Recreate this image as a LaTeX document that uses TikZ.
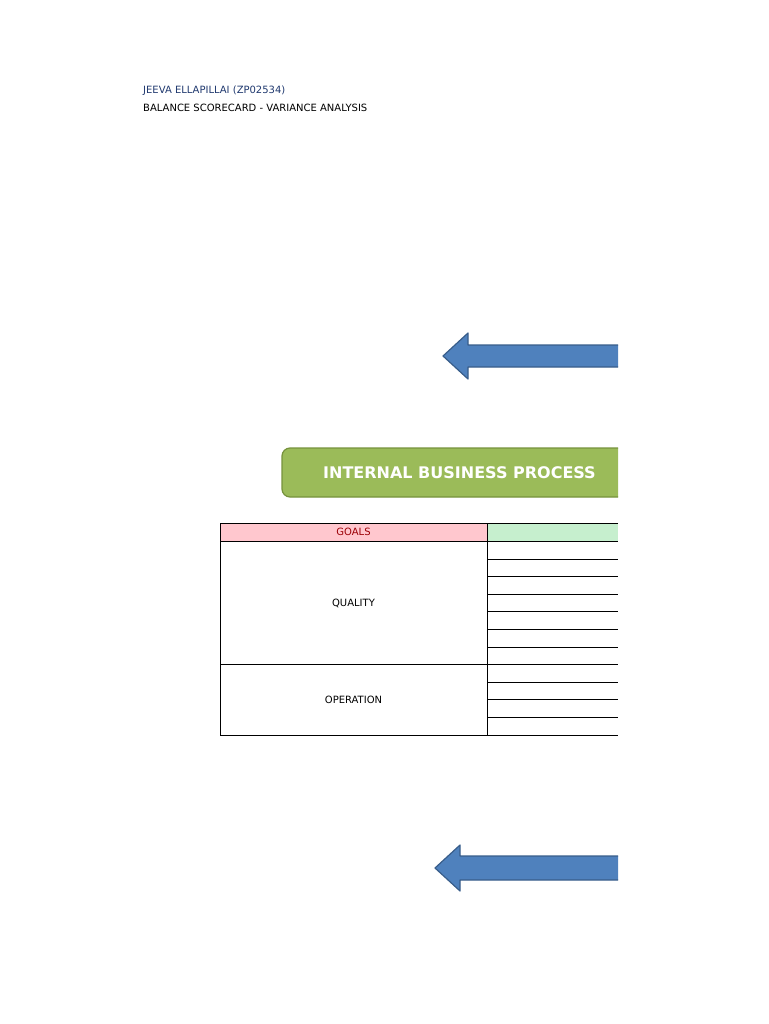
\documentclass[tikz,border=0pt]{standalone}
\usepackage{fontspec}
\setmainfont{DejaVu Sans}
\definecolor{navy}{RGB}{31,56,110}
\definecolor{arrfill}{RGB}{79,129,189}
\definecolor{arrdraw}{RGB}{56,93,138}
\definecolor{gfill}{RGB}{155,187,89}
\definecolor{gdraw}{RGB}{118,146,60}
\definecolor{pinkc}{RGB}{255,199,206}
\definecolor{mintc}{RGB}{198,239,206}
\definecolor{darkred}{RGB}{156,0,6}
\begin{document}
\begin{tikzpicture}[x=1pt,y=-1pt,
  arr/.style={fill=arrfill,draw=arrdraw,line width=1.2pt,line join=round},
  cell/.style={draw=black,line width=0.6pt},
  lbl/.style={font=\fontsize{10}{12}\selectfont,inner sep=0pt}]
\useasboundingbox (0,0) rectangle (768,1024);
\node[lbl,anchor=west,text=navy] (name) at (143,91) {JEEVA ELLAPILLAI (ZP02534)};
\node[lbl,anchor=west] (sub) at (143,108) {BALANCE SCORECARD - VARIANCE ANALYSIS};
\draw[arr] (618,345) -- (468,345) -- (468,333) -- (443,356) -- (468,379) -- (468,367) -- (618,367);
\draw[arr] (618,856) -- (460,856) -- (460,845) -- (435,868) -- (460,891) -- (460,880) -- (618,880);
\begin{scope}
\clip (0,0) rectangle (618,1024);
\draw[fill=gfill,draw=gdraw,line width=1.2pt,rounded corners=8pt] (282,448) rectangle (660,497);
\node[anchor=west,inner sep=0pt,text=white,font=\bfseries\fontsize{16}{19}\selectfont] (title) at (323,473) {INTERNAL BUSINESS PROCESS};
\end{scope}
\fill[pinkc] (220,523) rectangle (487,541);
\fill[mintc] (487,523) rectangle (618,541);
\draw[cell] (618,523) -- (220,523) -- (220,735) -- (618,735);
\draw[cell] (487,523) -- (487,735);
\draw[cell] (220,541) -- (618,541);
\draw[cell] (220,664) -- (618,664);
\foreach \y in {559,576,594,611,629,647,682,699,717} \draw[cell] (487,\y) -- (618,\y);
\node[lbl,text=darkred] (goals) at (353.5,532) {GOALS};
\node[lbl] (quality) at (353.5,603) {QUALITY};
\node[lbl] (operation) at (353.5,700) {OPERATION};
\end{tikzpicture}
\end{document}
